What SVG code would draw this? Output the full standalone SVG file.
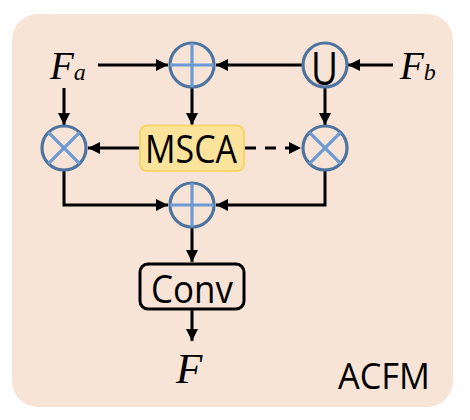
<svg xmlns="http://www.w3.org/2000/svg" width="470" height="420" viewBox="0 0 470 420">
<defs>
<marker id="ah" viewBox="0 0 12 12" refX="12" refY="6" markerWidth="12" markerHeight="12" markerUnits="userSpaceOnUse" orient="auto">
<path d="M0,0 L12,6 L0,12 z" fill="#000"/>
</marker>
</defs>
<style>
.bg{fill:#f7e4d7}
.op{fill:none;stroke:#4d74a0;stroke-width:3.2}
.cr{stroke:#6b9bd2;stroke-width:3.2}
.ln{fill:none;stroke:#000;stroke-width:3;marker-end:url(#ah)}
.math{font-family:"Liberation Serif",serif;font-style:italic;fill:#000}
.sans{font-family:"Open Sans","Noto Sans",sans-serif;fill:#000}
</style>
<rect class="bg" x="12" y="14" width="441" height="393" rx="26"/>
<g id="connectors">
<line class="ln" x1="98" y1="65" x2="168" y2="65"/>
<line class="ln" x1="302" y1="65" x2="216" y2="65"/>
<line class="ln" x1="393" y1="65" x2="348" y2="65"/>
<line class="ln" x1="64" y1="88" x2="64" y2="125"/>
<line class="ln" x1="192" y1="88" x2="192" y2="125"/>
<line class="ln" x1="325" y1="88" x2="325" y2="125"/>
<line class="ln" x1="139" y1="148" x2="88" y2="148"/>
<line class="ln" x1="245" y1="148" x2="301" y2="148" stroke-dasharray="11,9"/>
<polyline class="ln" points="64,170 64,205 168,205"/>
<polyline class="ln" points="325,170 325,205 216,205"/>
<line class="ln" x1="192" y1="228" x2="192" y2="262"/>
<line class="ln" x1="192" y1="310" x2="192" y2="341"/>
</g>
<g id="Fa"><text class="math" x="50" y="79" font-size="39">F<tspan font-size="24" dy="1">a</tspan></text></g>
<g id="Fb"><text class="math" x="400" y="79" font-size="39">F<tspan font-size="24" dy="1">b</tspan></text></g>
<g id="add1">
<circle class="op" cx="192" cy="65" r="22"/>
<line class="cr" x1="170" y1="65" x2="214" y2="65"/>
<line class="cr" x1="192" y1="43" x2="192" y2="87"/>
</g>
<g id="union">
<circle class="op" cx="325" cy="65" r="22"/>
<text class="sans" x="311" y="85" font-size="45" textLength="27" lengthAdjust="spacingAndGlyphs">U</text>
</g>
<g id="mul1">
<circle class="op" cx="64" cy="148" r="22"/>
<line class="cr" x1="48.4" y1="132.4" x2="79.6" y2="163.6"/>
<line class="cr" x1="79.6" y1="132.4" x2="48.4" y2="163.6"/>
</g>
<g id="mul2">
<circle class="op" cx="325" cy="148" r="22"/>
<line class="cr" x1="309.4" y1="132.4" x2="340.6" y2="163.6"/>
<line class="cr" x1="340.6" y1="132.4" x2="309.4" y2="163.6"/>
</g>
<g id="MSCA">
<rect x="140" y="125.5" width="104" height="45.5" rx="7" fill="#fce39b" stroke="#f6d46e" stroke-width="2"/>
<text class="sans" x="145" y="163" font-size="39" textLength="92" lengthAdjust="spacingAndGlyphs">MSCA</text>
</g>
<g id="add2">
<circle class="op" cx="192" cy="205" r="22"/>
<line class="cr" x1="170" y1="205" x2="214" y2="205"/>
<line class="cr" x1="192" y1="183" x2="192" y2="227"/>
</g>
<g id="Conv">
<rect x="140" y="264" width="104" height="45" rx="8" fill="none" stroke="#000" stroke-width="3"/>
<text class="sans" x="151" y="303" font-size="38" textLength="82" lengthAdjust="spacingAndGlyphs">Conv</text>
</g>
<g id="F"><text class="math" x="176" y="383" font-size="43">F</text></g>
<text class="sans" x="338" y="389" font-size="36" textLength="92" lengthAdjust="spacingAndGlyphs">ACFM</text>
</svg>
